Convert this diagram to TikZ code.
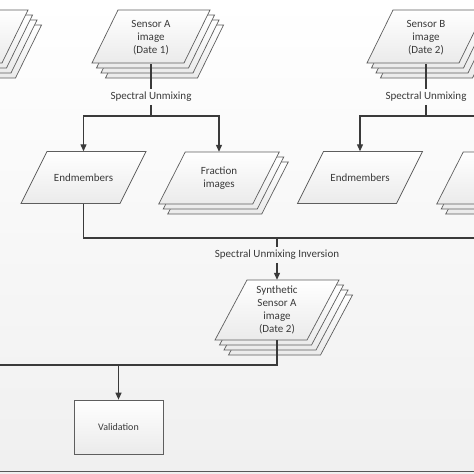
\documentclass[tikz,border=0pt]{standalone}
\usepackage{fontspec}
\setmainfont{Carlito}
\usetikzlibrary{arrows.meta,calc}
\definecolor{ink}{HTML}{3A3A3A}
\definecolor{edgegray}{HTML}{5E5E5E}
\tikzset{
  plate/.style={top color=white, bottom color=black!8, draw=edgegray, line width=0.7pt},
  lbl/.style={text=ink, font=\fontsize{11}{13}\selectfont, align=center, inner sep=0pt},
  tag/.style={lbl, inner sep=3pt},
  conn/.style={draw=ink, line width=1.2pt},
  arr/.style={conn, -{Triangle[length=7pt,width=6pt]}},
  procbox/.style={top color=white, bottom color=black!8, draw=edgegray, line width=0.7pt,
    text=ink, font=\fontsize{10}{12}\selectfont, inner sep=0pt},
}
\newcommand{\plate}[5]{%
  \shadedraw[plate] (#1-#3/2+#5/2, #2-#4/2) -- (#1+#3/2+#5/2, #2-#4/2)
    -- (#1+#3/2-#5/2, #2+#4/2) -- (#1-#3/2-#5/2, #2+#4/2) -- cycle;
}
\newcommand{\platestack}[6]{%
  \foreach \k in {#6,...,1} {\plate{#1+\k*4.5}{#2+\k*5}{#3}{#4}{#5}}
  \plate{#1}{#2}{#3}{#4}{#5}
}
\begin{document}
\begin{tikzpicture}[x=1pt,y=-1pt]
\useasboundingbox (0,0) rectangle (474,474);
\clip (0,0) rectangle (474,474);
\shade[top color=white, bottom color=black!6] (0,0) rectangle (474,474);

% shapes
\platestack{-31}{36.5}{92}{53}{26}{3}
\platestack{151}{36.5}{92}{53}{26}{3}
\platestack{426}{36.5}{92}{53}{26}{3}
\plate{83.5}{177.5}{99}{52}{26}
\platestack{219}{178}{94}{52}{26.5}{2}
\plate{360}{177.5}{99}{52}{26}
\platestack{497}{178}{94}{52}{26.5}{2}
\platestack{277}{310}{92}{60}{32}{3}

% named nodes
\node[lbl, minimum height=53] (lS) at (-31,36.5) {};
\node[lbl, minimum height=53] (sA) at (151,37.5) {Sensor A\\image\\(Date 1)};
\node[lbl, minimum height=53] (sB) at (426,37.5) {Sensor B\\image\\(Date 2)};
\node[lbl, minimum height=52] (eA) at (83.5,177.5) {Endmembers};
\node[lbl, minimum height=52] (fA) at (219,178) {Fraction\\images};
\node[lbl, minimum height=52] (eB) at (360,177.5) {Endmembers};
\node[lbl, minimum height=52] (fB) at (497,178) {};
\node[lbl, minimum height=60] (syn) at (277,310) {Synthetic\\Sensor A\\image\\(Date 2)};
\node[procbox, minimum width=89, minimum height=54] (val) at (118.5,427) {Validation};

\node[tag] (suA) at (151,97) {Spectral Unmixing};
\node[tag] (suB) at (426,97) {Spectral Unmixing};
\node[tag] (suI) at (277,255) {Spectral Unmixing Inversion};

\coordinate (jA) at (151,116);
\coordinate (jB) at (426,116);
\coordinate (jC) at (277,238);
\coordinate (jD) at (118.5,365);

% connectors
\draw[conn] (sA.south) -- (suA.north);
\draw[conn] (suA.south) -- (jA);
\draw[arr] (jA) -| (eA.north);
\draw[arr] (jA) -| (fA.north);

\draw[conn] (sB.south) -- (suB.north);
\draw[conn] (suB.south) -- (jB);
\draw[arr] (jB) -| (eB.north);
\draw[arr] (jB) -| (fB.north);

\draw[conn] (eA.south) |- (jC);
\draw[conn] (fB.south) |- (jC);
\draw[conn] (jC) -- (suI.north);
\draw[arr] (suI.south) -- (syn.north);

\draw[conn] (syn.south) |- (jD);
\draw[conn] (lS.south) |- (jD);
\draw[arr] (jD) -- (val.north);

% frame line
\draw[draw=ink!85, line width=0.8pt] (0,471) -- (474,471);
\end{tikzpicture}
\end{document}
